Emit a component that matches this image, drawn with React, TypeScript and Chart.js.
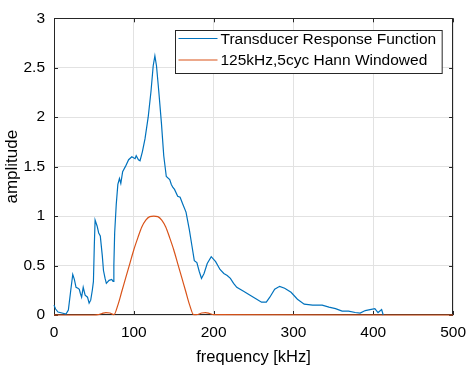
import React, { useEffect, useRef } from "react";
import { Chart, registerables } from "chart.js";

Chart.register(...registerables);

// Transducer response function (frequency in kHz, amplitude)
const respFreq = [
  0, 2, 5, 10, 15, 18, 21, 23.5, 25.5, 27.6, 30, 31.7, 33, 34.6, 36.6, 39, 42, 44, 46, 48,
  49.4, 50.5, 51.5, 54, 56, 58, 60.5, 62, 64, 65.6, 69, 72.3, 74, 75, 76, 78, 80, 82, 83.7, 86,
  89.4, 93.5, 97.5, 101.6, 103, 105.8, 107.8, 110.7, 114, 118, 121.5, 124.3, 126.4, 128.4, 131.3, 134.6, 137.5, 140.7, 145, 147,
  149, 151, 155, 158, 161.4, 165.4, 169.6, 172.8, 175.8, 179, 182, 184.8, 188, 192, 197, 202.5, 208, 212.8, 217, 221,
  225, 229, 237.5, 245.7, 254, 260, 266, 270.4, 276.5, 282.7, 289, 297, 305, 313.5, 324, 336, 344.5, 352.7, 361, 369,
  377.4, 383.6, 390, 396, 402, 406, 410.5, 412.5,
];
const respAmp = [
  0.10, 0.06, 0.03, 0.02, 0.01, 0.05, 0.25, 0.41, 0.36, 0.28, 0.27, 0.26, 0.22, 0.18, 0.28, 0.20, 0.18, 0.12, 0.15, 0.25,
  0.34, 0.70, 0.96, 0.90, 0.83, 0.80, 0.60, 0.45, 0.37, 0.32, 0.35, 0.36, 0.34, 0.50, 0.83, 1.12, 1.32, 1.38, 1.33, 1.45,
  1.50, 1.57, 1.60, 1.58, 1.61, 1.57, 1.56, 1.65, 1.78, 2.00, 2.26, 2.52, 2.62, 2.52, 2.26, 1.94, 1.61, 1.40, 1.37, 1.32,
  1.29, 1.27, 1.20, 1.19, 1.12, 1.04, 0.86, 0.70, 0.55, 0.53, 0.44, 0.37, 0.42, 0.52, 0.59, 0.54, 0.46, 0.42, 0.40, 0.37,
  0.32, 0.28, 0.24, 0.20, 0.16, 0.13, 0.13, 0.18, 0.26, 0.29, 0.27, 0.23, 0.16, 0.11, 0.10, 0.10, 0.08, 0.065, 0.04, 0.04,
  0.025, 0.02, 0.045, 0.055, 0.065, 0.025, 0.055, 0.0,
];

// 125 kHz, 5-cycle Hann windowed tone burst spectrum
const hannFreq = [
  0, 50, 55, 60, 65, 70, 75, 80, 85, 90, 95, 100, 105, 110, 115, 120, 125, 130, 135, 140,
  145, 150, 155, 160, 165, 170, 175, 180, 185, 190, 195, 200, 500,
];
const hannAmp = [
  0, 0, 0.003, 0.015, 0.025, 0.02, 0.003, 0.1, 0.24, 0.38, 0.52, 0.66, 0.78, 0.89, 0.96, 0.995, 1.0, 0.995, 0.96, 0.89,
  0.78, 0.66, 0.52, 0.38, 0.24, 0.1, 0.003, 0.005, 0.02, 0.025, 0.015, 0.003, 0,
];

const xTicks = [0, 100, 200, 300, 400, 500];
const yTicks = [0, 0.5, 1, 1.5, 2, 2.5, 3];
const seriesLabels = ["Transducer Response Function", "125kHz,5cyc Hann Windowed"];
const seriesColors = ["#0072BD", "#D95319"];

const FONT = "'Liberation Sans', Arial, Helvetica, sans-serif";
const AXIS = "#262626";

const boxPlugin = {
  id: "matlabBox",
  beforeDatasetsDraw(chart: any) {
    const { ctx, chartArea: a, scales } = chart;
    ctx.save();
    ctx.strokeStyle = AXIS;
    ctx.lineWidth = 1;
    ctx.strokeRect(Math.round(a.left) + 0.5, Math.round(a.top) + 0.5, Math.round(a.right - a.left) - 1, Math.round(a.bottom - a.top) - 1);
    const tl = 4;
    ctx.beginPath();
    xTicks.forEach((v) => {
      const px = Math.round(scales.x.getPixelForValue(v)) + 0.5;
      ctx.moveTo(px, a.bottom);
      ctx.lineTo(px, a.bottom - tl);
      ctx.moveTo(px, a.top);
      ctx.lineTo(px, a.top + tl);
    });
    yTicks.forEach((v) => {
      const py = Math.round(scales.y.getPixelForValue(v)) + 0.5;
      ctx.moveTo(a.left, py);
      ctx.lineTo(a.left + tl, py);
      ctx.moveTo(a.right, py);
      ctx.lineTo(a.right - tl, py);
    });
    ctx.stroke();
    ctx.restore();
  },
  afterDatasetsDraw(chart: any) {
    const { ctx, chartArea: a } = chart;
    ctx.save();
    ctx.font = `15.5px ${FONT}`;
    const tw = Math.max(...seriesLabels.map((s) => ctx.measureText(s).width));
    const right = Math.round(a.right - 12) + 0.5;
    const top = Math.round(a.top + 12) + 0.5;
    const lineLen = 39;
    const w = 3 + lineLen + 3 + tw + 6;
    const h = 43;
    const left = Math.round(right - w) + 0.5;
    ctx.fillStyle = "#ffffff";
    ctx.fillRect(left, top, w, h);
    ctx.strokeStyle = AXIS;
    ctx.lineWidth = 1;
    ctx.strokeRect(left, top, w, h);
    const rows = [top + 8, top + 29.5];
    seriesLabels.forEach((lab, i) => {
      const y = rows[i];
      ctx.strokeStyle = seriesColors[i];
      ctx.lineWidth = 1.2;
      ctx.beginPath();
      ctx.moveTo(left + 3, y);
      ctx.lineTo(left + 3 + lineLen, y);
      ctx.stroke();
      ctx.fillStyle = "#000000";
      ctx.textBaseline = "middle";
      ctx.textAlign = "left";
      ctx.fillText(lab, left + 3 + lineLen + 3, y + 1);
    });
    ctx.restore();
  },
};

export default function App() {
  const ref = useRef<HTMLCanvasElement | null>(null);
  useEffect(() => {
    if (!ref.current) return;
    const chart = new Chart(ref.current, {
      type: "line",
      data: {
        datasets: [
          {
            label: seriesLabels[0],
            data: respFreq.map((f, i) => ({ x: f, y: respAmp[i] })),
            borderColor: seriesColors[0],
            borderWidth: 1.2,
            pointRadius: 0,
            tension: 0,
            clip: 3,
          },
          {
            label: seriesLabels[1],
            data: hannFreq.map((f, i) => ({ x: f, y: hannAmp[i] })),
            borderColor: seriesColors[1],
            borderWidth: 1.2,
            pointRadius: 0,
            cubicInterpolationMode: "monotone",
            clip: 3,
          },
        ] as any,
      },
      options: {
        responsive: false,
        animation: false,
        layout: { padding: { top: 8, right: 15, left: 0, bottom: 0 } },
        plugins: { legend: { display: false }, tooltip: { enabled: false } },
        scales: {
          x: {
            type: "linear",
            min: 0,
            max: 500,
            afterBuildTicks: (s: any) => {
              s.ticks = xTicks.map((v) => ({ value: v }));
            },
            afterFit: (s: any) => {
              s.height = 55;
            },
            ticks: { padding: 8, color: "#000", font: { family: FONT, size: 15.5 }, maxRotation: 0 },
            grid: { color: "#e2e2e2", drawTicks: false },
            border: { display: false },
            title: {
              display: true,
              text: "frequency [kHz]",
              color: "#000",
              font: { family: FONT, size: 16.5 },
              padding: { top: 0, bottom: 3 },
            },
          },
          y: {
            type: "linear",
            min: 0,
            max: 3,
            afterBuildTicks: (s: any) => {
              s.ticks = yTicks.map((v) => ({ value: v }));
            },
            afterFit: (s: any) => {
              s.width = 54;
            },
            ticks: { padding: 9, color: "#000", font: { family: FONT, size: 15.5 }, callback: (v: any) => String(v) },
            grid: { color: "#e2e2e2", drawTicks: false },
            border: { display: false },
            title: {
              display: true,
              text: "amplitude",
              color: "#000",
              font: { family: FONT, size: 17 },
              padding: { top: 2, bottom: 0 },
            },
          },
        },
      } as any,
      plugins: [boxPlugin],
    });
    return () => chart.destroy();
  }, []);
  return (
    <div style={{ position: "fixed", left: 0, top: 0, width: 474, height: 370, background: "#fff" }}>
      <canvas ref={ref} width={474} height={370} />
    </div>
  );
}
